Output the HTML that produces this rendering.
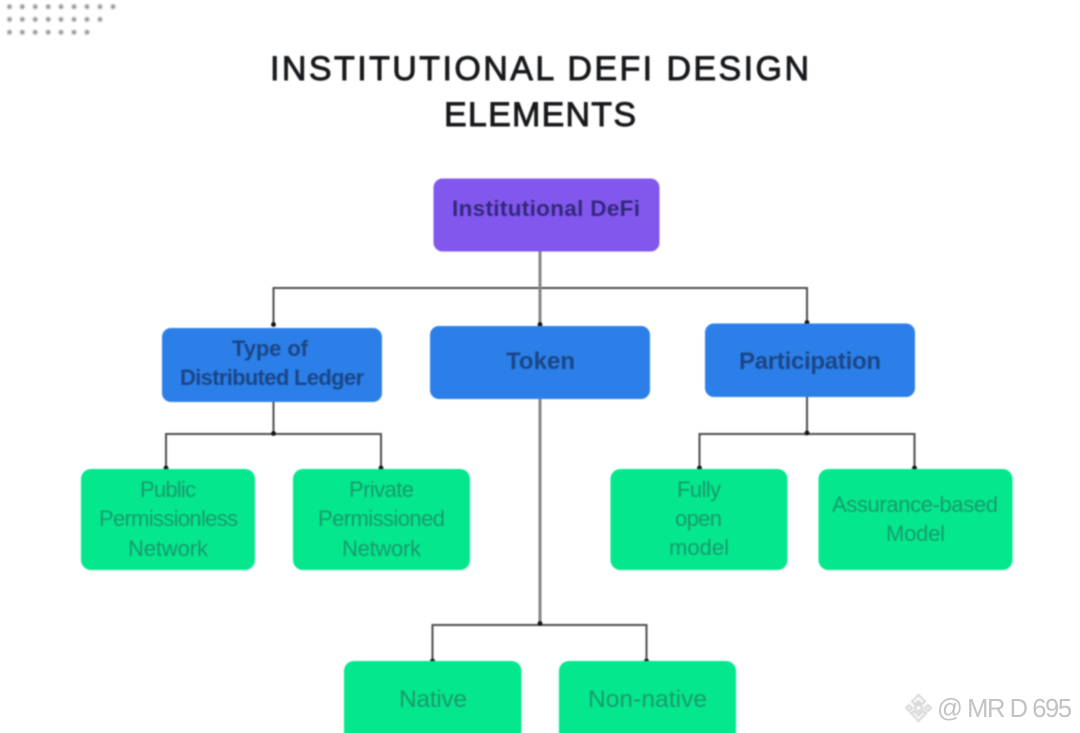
<!DOCTYPE html>
<html lang="en">
<head>
<meta charset="utf-8">
<title>Institutional DeFi Design Elements</title>
<style>
html,body{margin:0;padding:0;background:#fff;width:1080px;height:733px;overflow:hidden}
svg{display:block;position:absolute;left:0;top:0}
text{font-family:"Liberation Sans",sans-serif}
.soft{filter:blur(.8px)}
.dots{filter:blur(1.1px)}
.t{font-size:34px;fill:#17191c;stroke:#17191c;stroke-width:.9px}
.b{font-size:22px;font-weight:bold;fill:#1b4686}
.bl{font-size:24px;font-weight:bold;fill:#1b4686}
.p{font-size:22.500px;font-weight:bold;fill:#33287a}
.g{font-size:22px;fill:#189a6c}
.gl{font-size:24.500px;fill:#189a6c}
.w{font-size:25.500px;fill:#c2c2c2}
</style>
</head>
<body>
<svg width="1080" height="733" viewBox="0 0 1080 733" xmlns="http://www.w3.org/2000/svg">
  <!-- decorative dots -->
  <g fill="#8f8f94" class="dots">
    <circle cx="9.500" cy="6.700" r="2.300"/><circle cx="22.300" cy="6.700" r="2.300"/><circle cx="35.200" cy="6.700" r="2.300"/><circle cx="48.200" cy="6.700" r="2.300"/><circle cx="61" cy="6.700" r="2.300"/><circle cx="74" cy="6.700" r="2.300"/><circle cx="87" cy="6.700" r="2.300"/><circle cx="100" cy="6.700" r="2.300"/><circle cx="113" cy="6.700" r="2.300"/>
    <circle cx="9.500" cy="19.400" r="2.300"/><circle cx="22.300" cy="19.400" r="2.300"/><circle cx="35.200" cy="19.400" r="2.300"/><circle cx="48.200" cy="19.400" r="2.300"/><circle cx="61" cy="19.400" r="2.300"/><circle cx="74" cy="19.400" r="2.300"/><circle cx="87" cy="19.400" r="2.300"/><circle cx="100" cy="19.400" r="2.300"/>
    <circle cx="9.500" cy="32.300" r="2.300"/><circle cx="22.300" cy="32.300" r="2.300"/><circle cx="35.200" cy="32.300" r="2.300"/><circle cx="48.200" cy="32.300" r="2.300"/><circle cx="61" cy="32.300" r="2.300"/><circle cx="74" cy="32.300" r="2.300"/><circle cx="87" cy="32.300" r="2.300"/>
  </g>

  <g class="soft">
    <!-- title -->
    <text class="t" x="270" y="80" textLength="539">INSTITUTIONAL DEFI DESIGN</text>
    <text class="t" x="444" y="126" textLength="192">ELEMENTS</text>

    <!-- connectors -->
    <g fill="none" stroke="#4d4d4d" stroke-width="2">
      <path d="M273.500 325V288H807V323"/>
      <path d="M273.500 402V434"/>
      <path d="M166 468V434H381V468"/>
      <path d="M807 397V434"/>
      <path d="M699.500 468V434H914.500V468"/>
      <path d="M432.500 661V625H646.500V661"/>
    </g>
    <g fill="none" stroke="#858585" stroke-width="3">
      <path d="M540 251V325"/>
      <path d="M540 399V624"/>
    </g>
    <g fill="#111">
      <circle cx="273.500" cy="324.500" r="2.400"/><circle cx="540" cy="324.500" r="2.400"/><circle cx="807" cy="322.500" r="2.400"/>
      <circle cx="273.500" cy="433.500" r="2.400"/><circle cx="166" cy="468" r="2.400"/><circle cx="381" cy="468" r="2.400"/>
      <circle cx="807" cy="433" r="2.400"/><circle cx="699.500" cy="468" r="2.400"/><circle cx="914.500" cy="468" r="2.400"/>
      <circle cx="540" cy="623.500" r="2.400"/><circle cx="432.500" cy="661" r="2.400"/><circle cx="646.500" cy="661" r="2.400"/>
    </g>

    <!-- root -->
    <rect x="433.500" y="178.500" width="226" height="73" rx="9" fill="#8257ee"/>
    <text class="p" x="452" y="216" textLength="188">Institutional DeFi</text>

    <!-- blue boxes -->
    <g fill="#2c7fe8">
      <rect x="162" y="328" width="220" height="74" rx="9"/>
      <rect x="430" y="326" width="220" height="73" rx="9"/>
      <rect x="705" y="323.500" width="210" height="73.500" rx="9"/>
    </g>
    <text class="b" x="232" y="356" textLength="76">Type of</text>
    <text class="b" x="180" y="385" textLength="184">Distributed Ledger</text>
    <text class="bl" x="506" y="369" textLength="69">Token</text>
    <text class="bl" x="739" y="369" textLength="142">Participation</text>

    <!-- green boxes -->
    <g fill="#05e78d">
      <rect x="81" y="469" width="174" height="101" rx="10"/>
      <rect x="293" y="469" width="177" height="101" rx="10"/>
      <rect x="610.500" y="469" width="177" height="101" rx="10"/>
      <rect x="818.500" y="469" width="194" height="101" rx="10"/>
      <rect x="344" y="661" width="177.500" height="90" rx="10"/>
      <rect x="559" y="661" width="177" height="90" rx="10"/>
    </g>
    <text class="g" x="140" y="497" textLength="56">Public</text>
    <text class="g" x="99" y="526" textLength="139">Permissionless</text>
    <text class="g" x="128" y="556" textLength="80">Network</text>
    <text class="g" x="349" y="497" textLength="65">Private</text>
    <text class="g" x="318" y="526" textLength="127">Permissioned</text>
    <text class="g" x="342" y="556" textLength="79">Network</text>
    <text class="g" x="677" y="497" textLength="44">Fully</text>
    <text class="g" x="675" y="526" textLength="47">open</text>
    <text class="g" x="669" y="555" textLength="60">model</text>
    <text class="g" x="832" y="512" textLength="166">Assurance-based</text>
    <text class="g" x="886" y="541" textLength="59">Model</text>
    <text class="gl" x="399" y="707" textLength="68">Native</text>
    <text class="gl" x="588" y="707" textLength="119">Non-native</text>
  </g>

  <!-- watermark -->
  <g fill="none" stroke="#d6d6d6" stroke-width="2" class="soft">
    <path d="M918.500 695l6.500 6.500-3 3-3.500-3.500-3.500 3.500-3-3z"/>
    <path d="M918.500 704l4 4-4 4-4-4z"/>
    <path d="M906 708l3-3 3 3-3 3z"/>
    <path d="M925 708l3-3 3 3-3 3z"/>
    <path d="M911 713l7.500 8 7.500-8-3-2-4.500 4.500-4.500-4.500z"/>
  </g>
  <text class="w" x="937" y="717" textLength="135">@ MR D 695</text>
</svg>
</body>
</html>
